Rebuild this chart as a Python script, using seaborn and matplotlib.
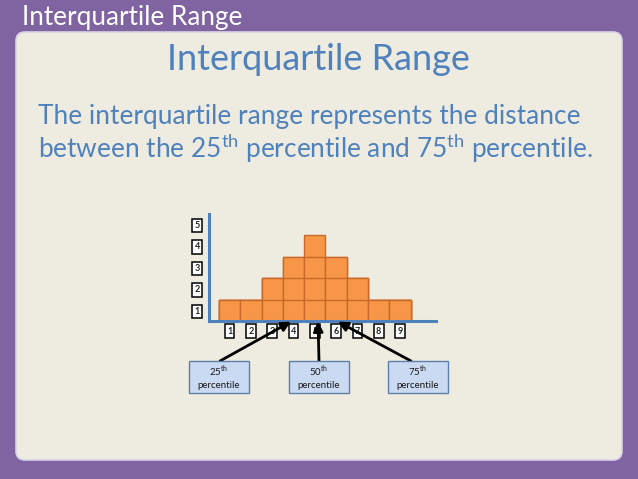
"""
Slide-style histogram showing the interquartile range,
built from stacked unit squares with seaborn bar plots.
"""

import numpy as np
import pandas as pd
import seaborn as sns
import matplotlib.pyplot as plt
from matplotlib.patches import FancyBboxPatch
from matplotlib.transforms import IdentityTransform

values = [1, 2, 3, 4, 5, 6, 7, 8, 9]
counts = [1, 1, 2, 3, 4, 3, 2, 1, 1]
count_labels = [1, 2, 3, 4, 5]
percentiles = ['25', '50', '75']

PURPLE = '#8064A2'
PANEL = '#EEECE1'
BLUE = '#4F81BD'
ORANGE = '#F79646'

W, H = 638, 479


def fit_width(fig, txt, width_px):
    """Rescale a text so it spans width_px pixels."""
    renderer = fig.canvas.get_renderer()
    bb = txt.get_window_extent(renderer)
    txt.set_fontsize(txt.get_fontsize() * width_px / bb.width)


def main():
    sns.set_style('white')
    plt.rcParams['font.family'] = ['Lato', 'DejaVu Sans']
    plt.rcParams['mathtext.fontset'] = 'custom'
    plt.rcParams['mathtext.rm'] = 'Lato'

    fig = plt.figure(figsize=(W / 100, H / 100), dpi=100, facecolor=PURPLE)

    # slide panel
    panel = FancyBboxPatch((16, H - 460), 606, 428,
                           boxstyle='round,pad=0,rounding_size=9',
                           facecolor=PANEL, edgecolor='#D9D2E6', lw=1.2,
                           transform=IdentityTransform(), zorder=-5)
    fig.patches.append(panel)

    header = fig.text(22 / W, 1 - 17 / H, 'Interquartile Range',
                      color='white', fontsize=16, va='center', ha='left')
    title = fig.text(318 / W, 1 - 60 / H, 'Interquartile Range',
                     color=BLUE, fontsize=24, va='center', ha='center')
    line1 = fig.text(38 / W, 1 - 124 / H,
                     'The interquartile range represents the distance',
                     color=BLUE, fontsize=17, va='baseline', ha='left')
    line2 = fig.text(38 / W, 1 - 158 / H,
                     r'between the 25$^{\mathrm{th}}$ percentile and '
                     r'75$^{\mathrm{th}}$ percentile.',
                     color=BLUE, fontsize=17, va='baseline', ha='left')
    fit_width(fig, header, 221)
    fit_width(fig, title, 304)
    fit_width(fig, line1, 540)
    line2.set_fontsize(line1.get_fontsize())

    # histogram axes
    ax = fig.add_axes([209 / W, (H - 321) / H, 227 / W, 107 / H])
    ax.set_facecolor('none')
    df = pd.DataFrame({'value': values, 'count': counts})
    for level in range(max(counts), 0, -1):
        sns.barplot(x=df['value'], y=np.minimum(df['count'], level),
                    width=1, color=ORANGE, saturation=1,
                    edgecolor='#C8692A', linewidth=1, ax=ax)
    ax.set_xlim(-0.967, 9.69)
    ax.set_ylim(0, 4.98)
    ax.set_xlabel('')
    ax.set_ylabel('')

    for side in ['top', 'right']:
        ax.spines[side].set_visible(False)
    for side in ['left', 'bottom']:
        ax.spines[side].set_color(BLUE)
        ax.spines[side].set_linewidth(2.2)

    ax.set_xticks(range(len(values)))
    ax.set_xticklabels(values)
    ax.set_yticks([c - 0.5 for c in count_labels])
    ax.set_yticklabels(count_labels)
    ax.tick_params(axis='x', length=0, pad=4, labelsize=6.5)
    ax.tick_params(axis='y', direction='out', length=3, width=1.5,
                   color='#C0504D', pad=3.5, labelsize=6.5)
    for lab in ax.get_xticklabels() + ax.get_yticklabels():
        lab.set_fontweight('bold')
        lab.set_bbox(dict(facecolor='white', edgecolor='black', lw=1.1,
                          boxstyle='square,pad=0.25'))

    # percentile call-out boxes and arrows
    box_cx = [219, 319, 418]
    arrow_start = [220, 319, 411]
    arrow_end = [2.88, 4.15, 5.09]
    for p, cx, sx, ex in zip(percentiles, box_cx, arrow_start, arrow_end):
        box = FancyBboxPatch((cx - 30, H - 393), 60, 32,
                             boxstyle='square,pad=0',
                             facecolor='#C9DAF2', edgecolor='#5F7FA8',
                             lw=1, transform=IdentityTransform(), zorder=1)
        fig.patches.append(box)
        fig.text(cx / W, 1 - 377 / H,
                 p + r'$^{\mathrm{th}}$' + '\npercentile',
                 ha='center', va='center', fontsize=7, color='#1A1A1A',
                 linespacing=1.35)
        ax.annotate('', xy=(ex, -0.03), xycoords='data',
                    xytext=(sx, H - 361), textcoords='figure pixels',
                    annotation_clip=False,
                    arrowprops=dict(arrowstyle='-|>', color='black', lw=2,
                                    mutation_scale=14, shrinkA=0, shrinkB=0))

    fig.savefig('out.png', dpi=100, facecolor=PURPLE)


if __name__ == '__main__':
    main()
